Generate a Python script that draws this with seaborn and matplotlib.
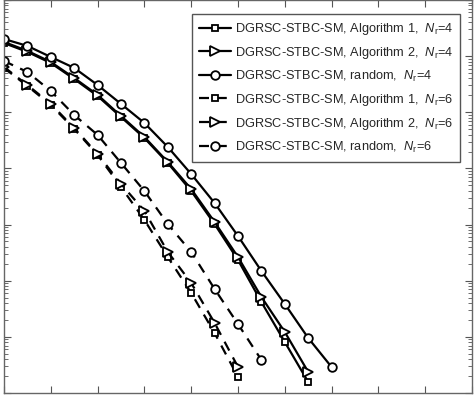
import numpy as np
import pandas as pd
import seaborn as sns
import matplotlib.pyplot as plt
from matplotlib.ticker import LogLocator, MultipleLocator, NullFormatter

sns.set_style('ticks')
plt.rcParams['font.family'] = ['Liberation Sans', 'DejaVu Sans']
plt.rcParams['mathtext.fontset'] = 'custom'
plt.rcParams['mathtext.rm'] = 'Liberation Sans'
plt.rcParams['mathtext.it'] = 'Liberation Sans:italic'

# SNR 点 (横轴标签在原图中被裁掉)
snr_a4 = [0, 1, 2, 3, 4, 5, 6, 7, 8, 9, 10, 11, 12, 13]
snr_r4 = [0, 1, 2, 3, 4, 5, 6, 7, 8, 9, 10, 11, 12, 13, 14]
snr_a6 = [0, 1, 2, 3, 4, 5, 6, 7, 8, 9, 10]
snr_r6 = [0, 1, 2, 3, 4, 5, 6, 7, 8, 9, 10, 11]

ber_alg1_nr4 = [0.171, 0.119, 0.0755, 0.0392, 0.0195, 8.24e-3, 3.48e-3, 1.25e-3,
                3.96e-4, 1.02e-4, 2.34e-5, 4.17e-6, 8.09e-7, 1.57e-7]
ber_alg2_nr4 = [0.179, 0.124, 0.0787, 0.0408, 0.0204, 8.59e-3, 3.63e-3, 1.30e-3,
                4.30e-4, 1.11e-4, 2.64e-5, 5.13e-6, 1.22e-6, 2.37e-7]
ber_rand_nr4 = [0.202, 0.152, 0.0966, 0.0617, 0.0306, 0.0141, 6.45e-3, 2.41e-3,
                7.94e-4, 2.42e-4, 6.25e-5, 1.49e-5, 3.85e-6, 9.55e-7, 2.9e-7]
ber_alg1_nr6 = [0.0615, 0.0294, 0.0135, 5.05e-3, 1.74e-3, 4.67e-4, 1.21e-4,
                2.64e-5, 6.05e-6, 1.17e-6, 1.93e-7]
ber_alg2_nr6 = [0.0641, 0.0306, 0.0141, 5.25e-3, 1.81e-3, 5.28e-4, 1.75e-4,
                3.25e-5, 9.12e-6, 1.77e-6, 2.9e-7]
ber_rand_nr6 = [0.0819, 0.0522, 0.0239, 8.95e-3, 3.95e-3, 1.25e-3, 3.96e-4,
                1.02e-4, 3.25e-5, 7.13e-6, 1.69e-6, 3.87e-7]

labels = [r'DGRSC-STBC-SM, Algorithm 1,  $N_{\mathrm{r}}$=4',
          r'DGRSC-STBC-SM, Algorithm 2,  $N_{\mathrm{r}}$=4',
          r'DGRSC-STBC-SM, random,  $N_{\mathrm{r}}$=4',
          r'DGRSC-STBC-SM, Algorithm 1,  $N_{\mathrm{r}}$=6',
          r'DGRSC-STBC-SM, Algorithm 2,  $N_{\mathrm{r}}$=6',
          r'DGRSC-STBC-SM, random,  $N_{\mathrm{r}}$=6']

dash = (0, (4.5, 3.5))
series = [(snr_a4, ber_alg1_nr4, 's', 5.0, '-'),
          (snr_a4, ber_alg2_nr4, '>', 6.5, '-'),
          (snr_r4, ber_rand_nr4, 'o', 6.2, '-'),
          (snr_a6, ber_alg1_nr6, 's', 5.0, dash),
          (snr_a6, ber_alg2_nr6, '>', 6.5, dash),
          (snr_r6, ber_rand_nr6, 'o', 6.2, dash)]

fig = plt.figure(figsize=(4.74, 3.95), dpi=100)
ax = fig.add_axes([4 / 474, 2 / 395, 468 / 474, 393 / 395])

for (x, y, mk, ms, ls), lab in zip(series, labels):
    df = pd.DataFrame({'snr': x, 'ber': y})
    sns.lineplot(data=df, x='snr', y='ber', ax=ax, color='black', linestyle=ls,
                 linewidth=1.6, marker=mk, markersize=ms, markerfacecolor='white',
                 markeredgecolor='black', markeredgewidth=1.3, label=lab)

ax.set_yscale('log')
ax.set_xlim(0, 20)
ax.set_ylim(1e-7, 1)
ax.xaxis.set_major_locator(MultipleLocator(2))
ax.yaxis.set_major_locator(LogLocator(base=10, numticks=12))
ax.yaxis.set_minor_locator(LogLocator(base=10, subs=np.arange(2, 10), numticks=12))
ax.yaxis.set_minor_formatter(NullFormatter())
ax.tick_params(which='both', direction='in', top=True, right=True,
               labelbottom=False, labelleft=False, color='#555555')
ax.tick_params(which='major', length=5, width=0.8)
ax.tick_params(which='minor', length=3, width=0.6)
ax.set_xlabel('')
ax.set_ylabel('')
for sp in ax.spines.values():
    sp.set_color('#666666')
    sp.set_linewidth(1.0)

leg = ax.legend(loc='upper right', bbox_to_anchor=(456 / 468, 1 - 14 / 393),
                borderaxespad=0, fontsize=9.2, handlelength=2.5, handletextpad=0.3,
                labelspacing=0.62, fancybox=False, framealpha=1, borderpad=0.55)
leg.get_frame().set_edgecolor('#555555')
leg.get_frame().set_linewidth(1.0)

fig.savefig('out.png', dpi=100)
